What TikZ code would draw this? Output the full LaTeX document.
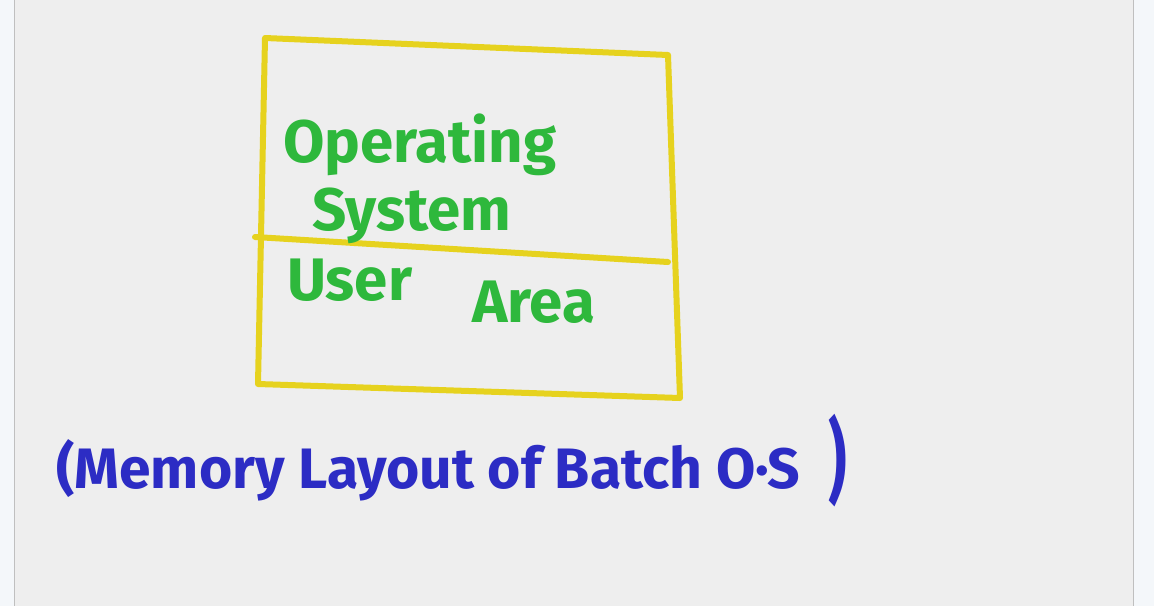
\documentclass[tikz,border=0pt]{standalone}
\usepackage{fontspec}
\setmainfont{Fira Sans}
\usepackage{tikz}

\definecolor{paper}{HTML}{EEEEEE}
\definecolor{rim}{HTML}{F4F7FA}
\definecolor{marker}{HTML}{E6D21E}
\definecolor{ink}{HTML}{2EB83C}
\definecolor{pen}{HTML}{2C2CC4}

\tikzset{
  boxline/.style={line width=6pt, marker, line cap=round, line join=round},
  greentext/.style={ink, font=\fontsize{60}{66}\selectfont\bfseries, inner sep=0pt, anchor=base west},
  bluetext/.style={pen, font=\fontsize{57}{63}\selectfont\bfseries, inner sep=0pt, anchor=base west}
}

\begin{document}
\begin{tikzpicture}[x=1pt,y=-1pt]
  	\useasboundingbox (0,0) rectangle (1154,606);
  	\fill[rim] (0,0) rectangle (1154,606);
  	\fill[paper] (14,0) rectangle (1133,606);
  	\draw[gray!50] (14,0)--(14,606);
  	\draw[gray!50] (1133,0)--(1133,606);
  	% memory box
  	\draw[boxline] (265,38)--(668,55)--(680,398)--(258,384)--cycle;
  	\draw[boxline] (255,237)--(668,262);
  	\node[greentext] (os1) at (283,162) {Operating};
  	\node[greentext] (os2) at (312,230) {System};
  	\node[greentext] (user) at (287,300) {User};
  	\node[greentext] (area) at (472,322) {Area};
  	% caption
  	\node[bluetext] (caption) at (56,488) {(Memory Layout of Batch O·S\enspace\raisebox{-4pt}{\scalebox{1}[1.6]{)}}};
\end{tikzpicture}
\end{document}
